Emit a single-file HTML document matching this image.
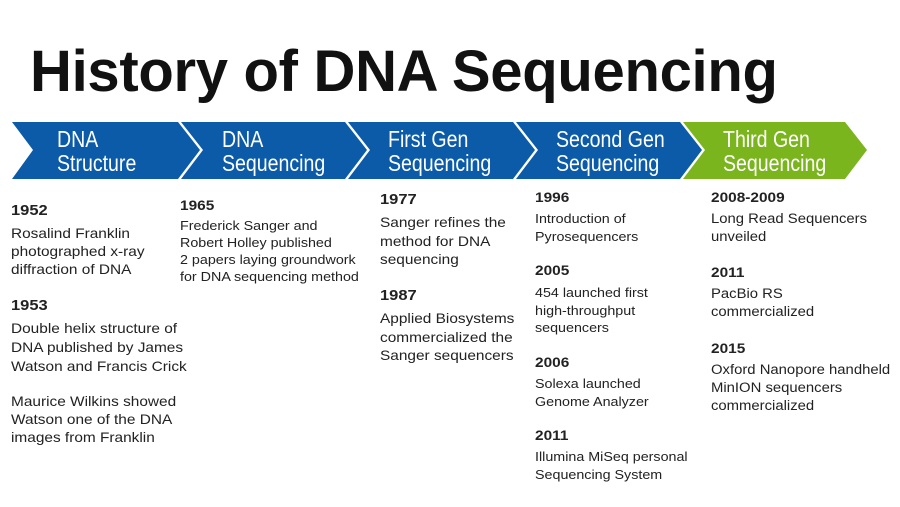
<!DOCTYPE html>
<html><head><meta charset="utf-8"><style>
body{margin:0;width:900px;height:507px;background:#fff;position:relative;overflow:hidden;font-family:"Liberation Sans",Arial,sans-serif;color:#222}
.t{position:absolute;left:30px;top:38px;font-size:58px;font-weight:bold;color:#111;letter-spacing:-0.3px;white-space:nowrap}
.h{position:absolute;color:#fff;font-size:23px;line-height:24px;transform:scaleX(0.85);transform-origin:left top;white-space:nowrap}
.b{position:absolute;white-space:nowrap;transform:scaleX(1.1);transform-origin:left top}
.y{font-weight:bold}
</style></head><body>
<div class="t">History of DNA Sequencing</div>
<svg style="position:absolute;left:0;top:0" width="900" height="507">
<polygon points="12,122 178,122 200,150 178,179 12,179 33,150" fill="#0b5ba8"/>
<polygon points="181,122 345,122 367,150 345,179 181,179 203,150" fill="#0b5ba8"/>
<polygon points="348,122 513,122 535,150 513,179 348,179 370,150" fill="#0b5ba8"/>
<polygon points="516,122 680,122 702,150 680,179 516,179 538,150" fill="#0b5ba8"/>
<polygon points="683,122 845,122 867,150 845,179 683,179 705,150" fill="#7ab51d"/>
</svg>
<div class="h" style="left:57px;top:127px">DNA<br>Structure</div>
<div class="h" style="left:222px;top:127px">DNA<br>Sequencing</div>
<div class="h" style="left:388px;top:127px">First Gen<br>Sequencing</div>
<div class="h" style="left:556px;top:127px">Second Gen<br>Sequencing</div>
<div class="h" style="left:723px;top:127px">Third Gen<br>Sequencing</div>

<div class="b" style="left:11px;top:201px;font-size:14px;line-height:18.5px"><span class="y" style="font-size:15px">1952</span></div>
<div class="b" style="left:11px;top:224px;font-size:14px;line-height:18px">Rosalind Franklin<br>photographed x-ray<br>diffraction of DNA</div>
<div class="b" style="left:11px;top:297px;font-size:15px;line-height:18px"><span class="y">1953</span></div>
<div class="b" style="left:11px;top:319px;font-size:14px;line-height:19px">Double helix structure of<br>DNA published by James<br>Watson and Francis Crick</div>
<div class="b" style="left:11px;top:392px;font-size:14px;line-height:18px">Maurice Wilkins showed<br>Watson one of the DNA<br>images from Franklin</div>

<div class="b" style="left:180px;top:196px;font-size:14px;line-height:18px"><span class="y">1965</span></div>
<div class="b" style="left:180px;top:217px;font-size:13px;line-height:17px">Frederick Sanger and<br>Robert Holley published<br>2 papers laying groundwork<br>for DNA sequencing method</div>

<div class="b" style="left:380px;top:191px;font-size:15px;line-height:18px"><span class="y">1977</span></div>
<div class="b" style="left:380px;top:213px;font-size:14px;line-height:18.5px">Sanger refines the<br>method for DNA<br>sequencing</div>
<div class="b" style="left:380px;top:287px;font-size:15px;line-height:18px"><span class="y">1987</span></div>
<div class="b" style="left:380px;top:309px;font-size:14px;line-height:18.5px">Applied Biosystems<br>commercialized the<br>Sanger sequencers</div>

<div class="b" style="left:535px;top:188px;font-size:14px;line-height:18px"><span class="y">1996</span></div>
<div class="b" style="left:535px;top:210px;font-size:13px;line-height:18px">Introduction of<br>Pyrosequencers</div>
<div class="b" style="left:535px;top:261px;font-size:14px;line-height:18px"><span class="y">2005</span></div>
<div class="b" style="left:535px;top:284px;font-size:13px;line-height:17.5px">454 launched first<br>high-throughput<br>sequencers</div>
<div class="b" style="left:535px;top:353px;font-size:14px;line-height:18px"><span class="y">2006</span></div>
<div class="b" style="left:535px;top:375px;font-size:13px;line-height:17.5px">Solexa launched<br>Genome Analyzer</div>
<div class="b" style="left:535px;top:426px;font-size:14px;line-height:18px"><span class="y">2011</span></div>
<div class="b" style="left:535px;top:448px;font-size:13px;line-height:17.5px">Illumina MiSeq personal<br>Sequencing System</div>

<div class="b" style="left:711px;top:188px;font-size:14px;line-height:18px"><span class="y">2008-2009</span></div>
<div class="b" style="left:711px;top:210px;font-size:13.5px;line-height:18px">Long Read Sequencers<br>unveiled</div>
<div class="b" style="left:711px;top:263px;font-size:14px;line-height:18px"><span class="y">2011</span></div>
<div class="b" style="left:711px;top:285px;font-size:13.5px;line-height:18px">PacBio RS<br>commercialized</div>
<div class="b" style="left:711px;top:339px;font-size:14px;line-height:18px"><span class="y">2015</span></div>
<div class="b" style="left:711px;top:361px;font-size:13.5px;line-height:18px">Oxford Nanopore handheld<br>MinION sequencers<br>commercialized</div>
</body></html>
